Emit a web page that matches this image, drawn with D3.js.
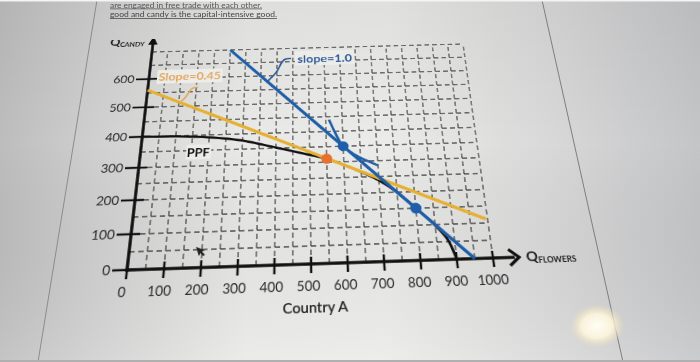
<!DOCTYPE html>
<html><head><meta charset="utf-8">
<script src="https://cdn.jsdelivr.net/npm/d3@7"></script>
<style>
html,body{margin:0;padding:0;width:700px;height:362px;overflow:hidden;background:#dcdcdc}
#bg{position:absolute;left:0;top:0}
#chart{position:absolute;left:0;top:0;transform-origin:0 0;filter:blur(0.4px)}
text{font-family:Lato,"Open Sans",sans-serif}
</style></head><body>
<svg id="bg" width="700" height="362"></svg>
<svg id="chart" width="700" height="362"></svg>
<script>
// ---------------- data ----------------
const xTickValues = [0,100,200,300,400,500,600,700,800,900,1000];
const yTickValues = [0,100,200,300,400,500,600];
const ppfFlowers = [0,100,200,300,400,500,550,600,650,700,750,800,850,880,900];
const ppfCandy   = [400,398,392,378,352,325,311,290,266,238,200,150,98,58,0];
const autarkyFlowers = [0,995];          // slope = 0.45 line
const autarkyCandy   = [560,112];
const tradeFlowers = [250,950];          // slope = 1.0 line
const tradeCandy   = [700,0];
const indiffFlowers = [560,575,590,600,612,640,700];
const indiffCandy   = [440,400,365,350,338,315,285];
const orangePoint = [550,311];
const bluePointsFlowers = [600,800];
const bluePointsCandy   = [350,150];
const slope1ArrowFlowers = [445,425,412,402,385,372];
const slope1ArrowCandy   = [662,663,645,615,595,581];
const slope045ArrowFlowers = [155,138,128,118,105];
const slope045ArrowCandy   = [565,566,548,528,515];

// ---------------- background (photo) ----------------
const bg = d3.select("#bg");
const defs = bg.append("defs");
const hg = defs.append("linearGradient").attr("id","hg");
[[0,"#bdbdbd"],[0.14,"#d0d0d0"],[0.35,"#e9e9e7"],[0.55,"#ebebe9"],[0.78,"#d9d9d9"],[1,"#c4c5c7"]]
  .forEach(s=>hg.append("stop").attr("offset",s[0]).attr("stop-color",s[1]));
const vg = defs.append("linearGradient").attr("id","vg").attr("x1",0).attr("y1",0).attr("x2",0).attr("y2",1);
[[0,"#000",0.05],[0.4,"#000",0],[1,"#fff",0.12]].forEach(s=>vg.append("stop").attr("offset",s[0]).attr("stop-color",s[1]).attr("stop-opacity",s[2]));
const rg = defs.append("radialGradient").attr("id","spot");
[[0,"#fffef6",1],[0.55,"#fbf4dc",0.95],[0.8,"#efe4c4",0.5],[1,"#e0d8c0",0]].forEach(s=>rg.append("stop").attr("offset",s[0]).attr("stop-color",s[1]).attr("stop-opacity",s[2]));
bg.append("rect").attr("width",700).attr("height",362).attr("fill","url(#hg)");
bg.append("rect").attr("width",700).attr("height",362).attr("fill","url(#vg)");
bg.append("line").attr("x1",97).attr("y1",0).attr("x2",38).attr("y2",362).attr("stroke","#8c8c8c").attr("stroke-width",1);
bg.append("line").attr("x1",542).attr("y1",0).attr("x2",623).attr("y2",362).attr("stroke","#7e7e80").attr("stroke-width",1);
bg.append("rect").attr("width",700).attr("height",1.5).attr("fill","#f4f4f4");
bg.append("rect").attr("y",360).attr("width",700).attr("height",2).attr("fill","#b0b0b0");
bg.append("ellipse").attr("cx",597).attr("cy",326).attr("rx",28).attr("ry",22).attr("fill","url(#spot)");
const topTxt = bg.append("g").style("filter","blur(0.5px)");
topTxt.append("text").attr("x",110).attr("y",7.5).attr("font-size",7.5).attr("fill","#555")
  .attr("textLength",152).attr("lengthAdjust","spacingAndGlyphs")
  .attr("text-decoration","underline").text("are engaged in free trade with each other.");
topTxt.append("text").attr("x",110).attr("y",17).attr("font-size",7.5).attr("fill","#444")
  .attr("textLength",167).attr("lengthAdjust","spacingAndGlyphs")
  .attr("text-decoration","underline").text("good and candy is the capital-intensive good.");

// ---------------- chart (flat, then projected) ----------------
const X0=100, Y0=20, W=400, H=280;
const x = d3.scaleLinear().domain([0,1000]).range([X0,X0+W]);
const y = d3.scaleLinear().domain([0,700]).range([Y0+H,Y0]);

const svg = d3.select("#chart");
const g = svg.append("g");

// grid
const gridX = x.ticks(20).filter(d=>d>0);
const gridY = y.ticks(14).filter(d=>d>0);
const gridCol = "#444";
g.append("g").selectAll("line").data(gridX).join("line")
  .attr("x1",d=>x(d)).attr("x2",d=>x(d)).attr("y1",y(0)).attr("y2",y(700))
  .attr("stroke",gridCol).attr("stroke-width",1.3).attr("stroke-dasharray","6,4");
g.append("g").selectAll("line").data(gridY).join("line")
  .attr("y1",d=>y(d)).attr("y2",d=>y(d)).attr("x1",x(0)).attr("x2",x(1000))
  .attr("stroke",gridCol).attr("stroke-width",1.3).attr("stroke-dasharray","6,4");

// axes
const axisCol="#111";
g.append("line").attr("x1",x(0)).attr("x2",x(1060)).attr("y1",y(0)).attr("y2",y(0))
  .attr("stroke",axisCol).attr("stroke-width",3.5);
g.append("path").attr("d",`M${x(1045)},${y(0)-9} L${x(1072)},${y(0)} L${x(1045)},${y(0)+9}`)
  .attr("fill","none").attr("stroke",axisCol).attr("stroke-width",3.5).attr("stroke-linejoin","miter");
g.append("line").attr("x1",x(0)).attr("x2",x(0)).attr("y1",y(0)+2).attr("y2",y(730))
  .attr("stroke",axisCol).attr("stroke-width",3.5);
g.append("path").attr("d",`M${x(0)-6},${y(728)} L${x(0)},${y(760)} L${x(0)+6},${y(728)} Z`).attr("fill",axisCol);

// ticks
g.append("g").selectAll("line").data(xTickValues).join("line")
  .attr("x1",d=>x(d)).attr("x2",d=>x(d)).attr("y1",y(0)-8).attr("y2",y(0)+10)
  .attr("stroke",axisCol).attr("stroke-width",2.5);
g.append("g").selectAll("text").data(xTickValues).join("text")
  .attr("x",d=>x(d)-3).attr("y",y(0)+29).attr("text-anchor","middle")
  .attr("font-size",14.5).attr("fill","#2a2a2a").text(d=>d);
g.append("g").selectAll("line").data(yTickValues).join("line")
  .attr("y1",d=>y(d)).attr("y2",d=>y(d)).attr("x1",x(0)-16).attr("x2",x(0)+10)
  .attr("stroke",axisCol).attr("stroke-width",2.5);
g.append("g").selectAll("text").data(yTickValues).join("text")
  .attr("x",x(0)-18).attr("y",d=>y(d)).attr("dy","0.35em").attr("text-anchor","end")
  .attr("font-size",15).attr("fill","#2a2a2a").text(d=>d);

// axis titles
const qc = g.append("text").attr("x",x(0)-55).attr("y",y(728)).attr("font-weight",700).attr("fill","#222");
qc.append("tspan").attr("font-size",16).text("Q");
qc.append("tspan").attr("font-size",9).attr("dy",2).text("CANDY");
const qf = g.append("text").attr("x",x(1092)).attr("y",y(0)+5).attr("font-weight",700).attr("fill","#222");
qf.append("tspan").attr("font-size",16).text("Q");
qf.append("tspan").attr("font-size",9).attr("dy",2).text("FLOWERS");
g.append("text").attr("x",x(510)).attr("y",y(0)+52).attr("text-anchor","middle")
  .attr("font-size",15.5).attr("font-weight",600).attr("fill","#222").text("Country A");

const lineGen = d3.line().x(d=>x(d[0])).y(d=>y(d[1]));

// labels with paper-coloured boxes that hide the grid
function boxedLabel(u,v,txt,size,col,pad){
  const lg = g.append("g");
  const r = lg.append("rect").attr("fill","#ecece9");
  const t = lg.append("text").attr("x",x(u)).attr("y",y(v)).attr("font-size",size)
    .attr("font-weight",700).attr("fill",col).text(txt);
  const b = t.node().getBBox();
  r.attr("x",b.x-pad).attr("y",b.y-pad/2).attr("width",b.width+2*pad).attr("height",b.height+pad);
}
boxedLabel(465,646,"slope=1.0",16,"#2d5b9b",3);
boxedLabel(30,592,"Slope=0.45",15.5,"#e6a862",2);
boxedLabel(137,330,"PPF",15,"#111",1);

// PPF
g.append("path").datum(d3.zip(ppfFlowers,ppfCandy))
  .attr("d",lineGen.curve(d3.curveCatmullRom.alpha(0.5)))
  .attr("fill","none").attr("stroke","#111").attr("stroke-width",3);
// autarky price line (slope 0.45)
g.append("path").datum(d3.zip(autarkyFlowers,autarkyCandy)).attr("d",d3.line().x(d=>x(d[0])).y(d=>y(d[1])))
  .attr("fill","none").attr("stroke","#e6b032").attr("stroke-width",4);
// trade line (slope 1.0)
g.append("path").datum(d3.zip(tradeFlowers,tradeCandy)).attr("d",d3.line().x(d=>x(d[0])).y(d=>y(d[1])))
  .attr("fill","none").attr("stroke","#1f5ea8").attr("stroke-width",3.8);
// indifference curve
g.append("path").datum(d3.zip(indiffFlowers,indiffCandy)).attr("d",d3.line().x(d=>x(d[0])).y(d=>y(d[1])).curve(d3.curveBasis))
  .attr("fill","none").attr("stroke","#1f5ea8").attr("stroke-width",3);
// annotation arrows
g.append("path").datum(d3.zip(slope1ArrowFlowers,slope1ArrowCandy)).attr("d",d3.line().x(d=>x(d[0])).y(d=>y(d[1])).curve(d3.curveBasis))
  .attr("fill","none").attr("stroke","#2d5b9b").attr("stroke-width",2.2);
g.append("path").datum(d3.zip(slope045ArrowFlowers,slope045ArrowCandy)).attr("d",d3.line().x(d=>x(d[0])).y(d=>y(d[1])).curve(d3.curveBasis))
  .attr("fill","none").attr("stroke","#e4a85a").attr("stroke-width",2.2);
// points
g.append("circle").attr("cx",x(orangePoint[0])).attr("cy",y(orangePoint[1])).attr("r",6.5).attr("fill","#e8702f");
g.append("g").selectAll("circle").data(d3.zip(bluePointsFlowers,bluePointsCandy)).join("circle")
  .attr("cx",d=>x(d[0])).attr("cy",d=>y(d[1])).attr("r",6.5).attr("fill","#1f5ea8");
// mouse pointer
g.append("path").attr("transform",`translate(${x(183)},${y(58)}) rotate(-20)`)
  .attr("d","M0,0 L0,11 L2.5,8.5 L4.5,13 L6.5,12 L4.5,7.5 L8,7.5 Z").attr("fill","#222");

// ---------------- projective transform to mimic the photo ----------------
function squareToQuad(q){
  const [x0,y0]=q[0],[x1,y1]=q[1],[x2,y2]=q[2],[x3,y3]=q[3];
  const dx1=x1-x2,dx2=x3-x2,dx3=x0-x1+x2-x3, dy1=y1-y2,dy2=y3-y2,dy3=y0-y1+y2-y3;
  const den=dx1*dy2-dx2*dy1;
  const gg=(dx3*dy2-dx2*dy3)/den, hh=(dx1*dy3-dx3*dy1)/den;
  return [[x1-x0+gg*x1, x3-x0+hh*x3, x0],[y1-y0+gg*y1, y3-y0+hh*y3, y0],[gg,hh,1]];
}
const quad = [[152,52],[463,44],[493,258],[127,270]]; // TL, TR, BR, BL of the grid in the photo
const S = squareToQuad(quad);
const M = S.map(r=>[r[0]/W, r[1]/H, r[2]-r[0]*X0/W-r[1]*Y0/H]);
document.getElementById("chart").style.transform =
  `matrix3d(${M[0][0]},${M[1][0]},0,${M[2][0]},${M[0][1]},${M[1][1]},0,${M[2][1]},0,0,1,0,${M[0][2]},${M[1][2]},0,${M[2][2]})`;
</script>
</body></html>
